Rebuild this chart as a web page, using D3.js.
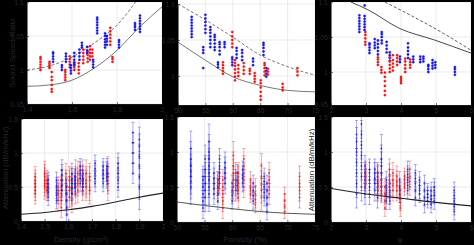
<!DOCTYPE html>
<html><head><meta charset="utf-8">
<script src="https://cdn.jsdelivr.net/npm/d3@7"></script>
<style>html,body{margin:0;padding:0;background:#000;}svg{display:block}</style>
</head><body>
<script>
// ---------- DATA ----------
// Top row: sound speed ratio columns [x, [values]]
const ssrDensityRed = [
 [1.46,[1.000,1.004,1.008,1.012,1.016,1.019]],
 [1.50,[1.003,1.006,1.009,1.012]],
 [1.51,[0.968,0.972,0.978,0.985,0.990,0.997]],
 [1.57,[0.985,0.989,0.993,0.997,1.000]],
 [1.59,[1.004,1.008,1.012,1.016,1.020]],
 [1.61,[1.000,1.004,1.008,1.010]],
 [1.63,[0.995,1.000,1.005,1.010]],
 [1.65,[1.010,1.015,1.020,1.025,1.030]],
 [1.67,[1.012,1.017,1.022,1.027]],
 [1.68,[1.015,1.020,1.025,1.030,1.035]],
 [1.69,[1.020,1.025,1.030]],
 [1.77,[1.037,1.042,1.047,1.052,1.057,1.062]],
 [1.78,[1.012,1.016,1.019]]
];
const ssrDensityBlue = [
 [1.516,[1.012,1.016,1.020,1.024,1.026]],
 [1.555,[1.000,1.004,1.007]],
 [1.573,[1.012,1.016,1.020,1.024]],
 [1.595,[0.995,0.999,1.003,1.007]],
 [1.61,[1.007,1.011,1.015,1.020,1.025]],
 [1.633,[1.015,1.020,1.025,1.030]],
 [1.644,[1.033,1.036,1.040]],
 [1.667,[1.025,1.029,1.034]],
 [1.694,[1.004,1.008,1.012,1.015]],
 [1.712,[1.054,1.058,1.062,1.066,1.070,1.074,1.077]],
 [1.747,[1.033,1.037,1.041,1.045,1.050,1.054]],
 [1.755,[1.037,1.042,1.046,1.050]],
 [1.809,[1.033,1.037,1.041,1.044]],
 [1.88,[1.059,1.063,1.066,1.069]],
 [1.902,[1.056,1.060,1.064,1.068,1.072,1.076,1.080]]
];
const ssrPorosityBlue = [
 [52.5,[1.054,1.058,1.062,1.066,1.070,1.074,1.078,1.082]],
 [54.6,[1.011,1.032,1.036,1.040]],
 [55.0,[1.060,1.065,1.070,1.075,1.080,1.085]],
 [55.9,[1.040,1.045,1.050,1.055,1.060,1.064,1.068]],
 [56.7,[1.036,1.040,1.045,1.050,1.054,1.057]],
 [57.3,[1.012,1.016,1.019]],
 [57.6,[1.030,1.035,1.040,1.044,1.047]],
 [58.5,[1.040,1.044,1.047]],
 [59.9,[1.015,1.019,1.023,1.026]],
 [60.7,[1.025,1.030,1.035,1.039]],
 [61.7,[1.022,1.027,1.032,1.036]],
 [63.7,[1.015,1.020,1.024]],
 [65.6,[1.029,1.034,1.039,1.043,1.046]],
 [66.1,[0.999,1.003,1.007,1.011]]
];
const ssrPorosityRed = [
 [58.2,[1.003,1.007,1.011,1.015,1.019]],
 [59.9,[1.040,1.045,1.050,1.055,1.061]],
 [60.4,[0.994,0.999,1.004,1.009,1.014,1.018,1.022]],
 [61.0,[1.000,1.005,1.010,1.015]],
 [62.0,[1.003,1.008,1.013,1.018]],
 [63.1,[1.003,1.007,1.010]],
 [64.0,[0.992,0.996,1.000,1.004]],
 [65.1,[0.967,0.972,0.978,0.984,0.990,0.994]],
 [65.8,[1.001,1.006,1.011,1.015,1.018]],
 [66.4,[1.002,1.006,1.010]],
 [69.1,[0.980,0.984,0.989]],
 [71.8,[1.001,1.006,1.011]]
];
const ssrPhiBlue = [
 [2.81,[1.057,1.061,1.065,1.069,1.073,1.077,1.081]],
 [2.96,[1.060,1.064,1.068,1.072,1.076,1.080,1.095]],
 [3.10,[1.027,1.031,1.035,1.039,1.041]],
 [3.25,[1.034,1.038,1.042,1.047]],
 [3.34,[1.025,1.030,1.035,1.040,1.045]],
 [3.45,[1.041,1.045,1.050,1.054,1.057]],
 [3.59,[1.028,1.033,1.038,1.043]],
 [3.68,[1.016,1.020,1.024,1.028]],
 [3.97,[1.014,1.018,1.022]],
 [4.20,[1.020,1.025,1.030,1.035,1.041]],
 [4.35,[1.014,1.018,1.022]],
 [4.55,[1.014,1.018,1.022]],
 [4.64,[1.015,1.019,1.022]],
 [4.78,[1.000,1.004,1.008,1.010]],
 [4.90,[1.005,1.009,1.013,1.017]],
 [4.98,[1.006,1.010,1.014]],
 [5.54,[0.996,1.000,1.004,1.007]]
];
const ssrPhiRed = [
 [2.98,[1.039,1.043,1.048,1.053,1.057]],
 [3.34,[1.010,1.014,1.018,1.021]],
 [3.44,[0.999,1.003,1.007]],
 [3.54,[0.967,0.973,0.980,0.987,0.993,0.999]],
 [3.68,[1.000,1.005,1.010,1.015,1.021]],
 [3.77,[1.002,1.007,1.012,1.017,1.024]],
 [3.89,[1.010,1.015,1.020,1.024]],
 [4.00,[0.984,0.987,0.990,0.993]],
 [4.12,[1.000,1.005,1.010,1.015,1.019]],
 [4.26,[1.006,1.010,1.014,1.018]]
];
// Bottom row: attenuation columns [x, [values], error half-length]
const attDensityRed = [
 [1.46,[0.40,0.45,0.50,0.55,0.60,0.65],0.15],
 [1.50,[0.50,0.55,0.60,0.65,0.70],0.18],
 [1.51,[0.45,0.50,0.55,0.60],0.15],
 [1.557,[0.30,0.40,0.45,0.50],0.15],
 [1.57,[0.20,0.30,0.40,0.50,0.60],0.15],
 [1.59,[0.30,0.40,0.50,0.55,0.60,0.70],0.15],
 [1.605,[0.35,0.45,0.50,0.60,0.65],0.15],
 [1.615,[0.30,0.40,0.50,0.60],0.18],
 [1.63,[0.40,0.50,0.55,0.65,0.75],0.15],
 [1.64,[0.45,0.55,0.60,0.70],0.18],
 [1.66,[0.45,0.55,0.60,0.65,0.75],0.15],
 [1.675,[0.50,0.55,0.60,0.70],0.20],
 [1.69,[0.45,0.50,0.60,0.65],0.20],
 [1.767,[0.45,0.55,0.65,0.70,0.80],0.15]
];
const attDensityBlue = [
 [1.515,[0.35,0.42,0.50,0.55,0.60],0.12],
 [1.55,[0.30,0.38,0.45,0.52,0.60],0.12],
 [1.573,[0.45,0.52,0.60,0.68,0.75],0.15],
 [1.593,[0.10,0.20,0.30,0.40,0.50],0.12],
 [1.615,[0.40,0.48,0.55,0.62,0.70],0.15],
 [1.628,[0.50,0.55,0.60,0.65],0.12],
 [1.65,[0.55,0.62,0.70,0.75,0.80],0.12],
 [1.662,[0.50,0.55,0.62,0.70],0.12],
 [1.713,[0.55,0.62,0.70,0.77,0.85],0.12],
 [1.747,[0.55,0.62,0.70,0.75,0.80],0.12],
 [1.763,[0.60,0.65,0.70,0.75,0.80],0.12],
 [1.81,[0.50,0.60,0.70,0.78,0.85],0.15],
 [1.873,[0.70,0.85,1.00,1.15,1.30],0.15],
 [1.90,[0.35,0.50,0.65,0.80,0.95,1.10,1.20],0.18]
];
const attPorosityBlue = [
 [52.5,[0.50,0.58,0.65,0.72,0.80,0.90,1.05],0.25],
 [54.7,[0.20,0.30,0.40,0.50,0.60,0.65],0.15],
 [55.1,[0.35,0.45,0.55,0.65,0.75,0.90],0.20],
 [55.8,[0.40,0.50,0.60,0.70,0.80,0.90,1.00,1.15],0.25],
 [56.7,[0.40,0.48,0.55,0.62,0.70],0.15],
 [57.4,[0.30,0.40,0.50,0.60],0.12],
 [57.7,[0.55,0.62,0.70,0.80,0.90],0.15],
 [58.7,[0.55,0.62,0.70,0.78,0.85],0.15],
 [60.0,[0.30,0.38,0.45,0.55],0.12],
 [60.9,[0.45,0.52,0.60,0.70],0.12],
 [61.9,[0.55,0.62,0.68,0.75],0.12],
 [63.8,[0.30,0.38,0.45,0.55],0.12],
 [65.8,[0.35,0.42,0.50,0.58,0.65],0.12],
 [66.3,[0.15,0.25,0.35,0.45,0.55],0.12]
];
const attPorosityRed = [
 [57.4,[0.45,0.50,0.55,0.60],0.12],
 [58.3,[0.20,0.30,0.40,0.50,0.60],0.15],
 [60.2,[0.50,0.60,0.70,0.80,0.95],0.20],
 [60.6,[0.45,0.52,0.60,0.70],0.15],
 [61.1,[0.35,0.45,0.55,0.65,0.70],0.15],
 [62.1,[0.50,0.60,0.70,0.80,0.90],0.15],
 [63.3,[0.40,0.45,0.50,0.60],0.12],
 [64.2,[0.25,0.32,0.40,0.50],0.12],
 [65.3,[0.35,0.45,0.55,0.65,0.80],0.18],
 [66.7,[0.40,0.50,0.60,0.70],0.15],
 [69.5,[0.15,0.22,0.30,0.40],0.10],
 [72.2,[0.35,0.45,0.55,0.65],0.15]
];
const attPhiBlue = [
 [2.73,[0.40,0.55,0.70,0.85,1.00,1.15,1.25],0.20],
 [2.87,[0.50,0.65,0.80,0.95,1.10,1.25,1.40],0.20],
 [2.97,[0.40,0.50,0.60,0.70,0.80],0.15],
 [3.10,[0.40,0.50,0.60,0.70,0.75],0.15],
 [3.25,[0.45,0.55,0.62,0.70,0.75],0.15],
 [3.33,[0.35,0.45,0.55,0.65,0.70],0.15],
 [3.44,[0.50,0.60,0.70,0.80,0.90,1.05],0.20],
 [3.58,[0.30,0.38,0.45,0.52,0.60],0.12],
 [3.68,[0.30,0.38,0.45,0.55],0.12],
 [3.96,[0.40,0.45,0.50,0.60],0.12],
 [4.19,[0.45,0.52,0.60,0.68,0.75],0.12],
 [4.41,[0.35,0.45,0.55,0.62,0.70],0.12],
 [4.53,[0.40,0.45,0.52,0.60],0.12],
 [4.67,[0.25,0.35,0.45,0.55],0.12],
 [4.76,[0.30,0.35,0.40,0.45],0.10],
 [4.86,[0.25,0.32,0.38,0.45],0.12],
 [4.95,[0.30,0.38,0.45,0.50],0.12],
 [5.52,[0.15,0.22,0.30,0.38,0.45],0.12]
];
const attPhiRed = [
 [2.99,[0.55,0.60,0.65,0.70,0.75],0.12],
 [3.34,[0.45,0.52,0.60,0.70],0.12],
 [3.44,[0.40,0.45,0.50,0.55],0.12],
 [3.54,[0.20,0.30,0.40,0.50],0.12],
 [3.67,[0.40,0.50,0.60,0.68,0.75],0.15],
 [3.77,[0.45,0.52,0.60,0.70],0.15],
 [3.88,[0.45,0.52,0.58,0.65],0.15],
 [3.98,[0.20,0.28,0.35,0.45],0.12],
 [4.10,[0.50,0.55,0.60,0.65],0.12],
 [4.25,[0.50,0.58,0.65,0.75],0.12]
];
// Model curves [x, y]
const ssrDensitySolid = [[1.4,0.976],[1.5,0.978],[1.6,0.985],[1.7,1.003],[1.8,1.029],[1.9,1.063],[2.0,1.093]];
const ssrDensityDashed = [[1.4,1.0],[1.5,1.006],[1.6,1.019],[1.7,1.04],[1.8,1.066],[1.9,1.108]];
const ssrPorositySolid = [[50,1.047],[55,1.022],[60,0.999],[65,0.987],[70,0.98],[75,0.978]];
const ssrPorosityDashed = [[50,1.1],[55,1.078],[60,1.054],[65,1.029],[70,1.013],[75,1.001]];
const ssrPhiSolid = [[2.57,1.1],[3.05,1.089],[3.97,1.062],[4.94,1.046],[6.0,1.027]];
const ssrPhiDashed = [[3.54,1.1],[4.35,1.079],[5.22,1.055],[6.0,1.031]];
const attDensityCurve = [[1.4,0.1],[1.5,0.125],[1.6,0.165],[1.7,0.215],[1.8,0.28],[1.9,0.35],[2.0,0.41]];
const attPorosityCurve = [[50,0.286],[55,0.235],[60,0.19],[65,0.15],[70,0.125],[75,0.11]];
const attPhiCurve = [[2,0.48],[3,0.4],[4,0.34],[5,0.28],[6,0.23]];
// Tick values
const densityTicksTop = [1.4,1.6,1.8,2];
const densityTicksBottom = [1.4,1.5,1.6,1.7,1.8,1.9,2];
const porosityTicks = [50,55,60,65,70,75];
const phiTicks = [2,3,4,5,6];
const ssrTicks = [0.95,1,1.05,1.1];
const attTicks = [0,0.5,1,1.5];

// ---------- DRAWING ----------
const W=474,H=245;
const RED="#f01414", BLUE="#1414ee", TXT="#262626", FONT="'Liberation Sans', Arial, sans-serif";
const svg=d3.select("body").append("svg").attr("width",W).attr("height",H);
svg.append("rect").attr("width",W).attr("height",H).attr("fill","#000");
const fmt=d3.format("~g");

function panel(c){
  const x=d3.scaleLinear().domain(c.xd).range([c.x0,c.x1]);
  const y=d3.scaleLinear().domain(c.yd).range(c.yr);
  const g=svg.append("g");
  g.append("rect").attr("x",c.x0).attr("y",c.y0).attr("width",c.x1-c.x0).attr("height",c.y1-c.y0).attr("fill","#fff");
  svg.append("clipPath").attr("id","clip"+c.id).append("rect")
    .attr("x",c.x0).attr("y",c.y0).attr("width",c.x1-c.x0).attr("height",c.y1-c.y0);
  const inner=g.append("g").attr("clip-path",`url(#clip${c.id})`);
  inner.selectAll(null).data(c.xt).join("line")
    .attr("x1",d=>x(d)).attr("x2",d=>x(d)).attr("y1",c.y0).attr("y2",c.y1)
    .attr("stroke","#dedede").attr("stroke-width",0.6);
  inner.selectAll(null).data(c.yt).join("line")
    .attr("y1",d=>y(d)).attr("y2",d=>y(d)).attr("x1",c.x0).attr("x2",c.x1)
    .attr("stroke","#dedede").attr("stroke-width",0.6);
  const line=d3.line().x(d=>x(d[0])).y(d=>y(d[1])).curve(d3.curveMonotoneX);
  (c.curves||[]).forEach(cv=>{
    inner.append("path").datum(cv.data).attr("d",line).attr("fill","none")
      .attr("stroke",cv.color).attr("stroke-width",cv.w).attr("stroke-dasharray",cv.dash||null);
  });
  (c.scatter||[]).forEach(s=>{
    const pts=s.data.flatMap(([xv,vals])=>vals.map(v=>[xv,v]));
    inner.append("g").selectAll("circle").data(pts).join("circle")
      .attr("cx",d=>x(d[0])).attr("cy",d=>y(d[1])).attr("r",1.15)
      .attr("fill",s.color).attr("stroke",s.color).attr("stroke-width",0.4);
  });
  (c.errs||[]).forEach(s=>{
    const pts=s.data.flatMap(([xv,vals,e])=>vals.map(v=>[xv,v,e]));
    const eg=inner.append("g").attr("stroke",s.color).attr("stroke-opacity",0.5).attr("stroke-width",0.7);
    eg.selectAll(null).data(pts).join("line")
      .attr("x1",d=>x(d[0])).attr("x2",d=>x(d[0])).attr("y1",d=>y(d[1]-d[2])).attr("y2",d=>y(d[1]+d[2]));
    eg.selectAll(null).data(pts).join("line")
      .attr("x1",d=>x(d[0])-1.5).attr("x2",d=>x(d[0])+1.5).attr("y1",d=>y(d[1]-d[2])).attr("y2",d=>y(d[1]-d[2]));
    eg.selectAll(null).data(pts).join("line")
      .attr("x1",d=>x(d[0])-1.5).attr("x2",d=>x(d[0])+1.5).attr("y1",d=>y(d[1]+d[2])).attr("y2",d=>y(d[1]+d[2]));
    inner.append("g").selectAll("circle").data(pts).join("circle")
      .attr("cx",d=>x(d[0])).attr("cy",d=>y(d[1])).attr("r",1.0)
      .attr("fill",s.color).attr("fill-opacity",0.75);
  });
  (c.after||[]).forEach(cv=>{
    inner.append("path").datum(cv.data).attr("d",line).attr("fill","none")
      .attr("stroke",cv.color).attr("stroke-width",cv.w);
  });
  const ax=g.append("g").attr("transform",`translate(0,${c.y1})`)
    .call(d3.axisBottom(x).tickValues(c.xt).tickFormat(fmt).tickSize(-2).tickSizeOuter(0).tickPadding(3));
  const ay=g.append("g").attr("transform",`translate(${c.x0},0)`)
    .call(d3.axisLeft(y).tickValues(c.yt).tickFormat(fmt).tickSize(-2).tickSizeOuter(0).tickPadding(3));
  [ax,ay].forEach(a=>{
    a.select(".domain").attr("stroke",TXT).attr("stroke-width",0.6);
    a.selectAll(".tick line").attr("stroke",TXT).attr("stroke-width",0.6);
    a.selectAll("text").attr("fill",TXT).style("font-family",FONT).style("font-size","7px");
  });
  if(c.ytShift) ay.selectAll(".tick text").attr("dy",(d,i)=>d===c.yd[0]?"-0.1em":"0.32em");
  if(c.xlabel) g.append("text").attr("x",c.xlabel[1]).attr("y",c.xlabel[2]).attr("text-anchor","middle")
    .attr("fill",TXT).style("font-family",FONT).style("font-size","8px").text(c.xlabel[0]);
  if(c.ylabel) g.append("text").attr("transform",`translate(${c.ylabel[1]},${c.ylabel[2]}) rotate(-90)`)
    .attr("text-anchor","middle").attr("dominant-baseline","middle")
    .attr("fill",TXT).style("font-family",FONT).style("font-size","8px").text(c.ylabel[0]);
}

const GRAY="#555";
panel({id:1,x0:27,x1:162,y0:2,y1:104,xd:[1.4,2],yd:[0.95,1.1],yr:[104,2],xt:densityTicksTop,yt:ssrTicks,
  curves:[{data:ssrDensitySolid,color:GRAY,w:0.8},{data:ssrDensityDashed,color:GRAY,w:0.8,dash:"3,2"}],
  scatter:[{data:ssrDensityRed,color:RED},{data:ssrDensityBlue,color:BLUE}],
  ylabel:["Sound Speed Ratio",13,53]});
panel({id:2,x0:178,x1:315,y0:0,y1:105,xd:[50,75],yd:[0.95,1.1],yr:[112,4],xt:porosityTicks,yt:[1,1.05,1.1],
  curves:[{data:ssrPorositySolid,color:GRAY,w:0.8},{data:ssrPorosityDashed,color:GRAY,w:0.8,dash:"3,2"}],
  scatter:[{data:ssrPorosityBlue,color:BLUE},{data:ssrPorosityRed,color:RED}]});
panel({id:3,x0:331,x1:471,y0:2,y1:105,xd:[2,6],yd:[0.95,1.1],yr:[107,2],xt:phiTicks,yt:ssrTicks,ytShift:true,
  curves:[{data:ssrPhiSolid,color:"#333",w:0.9},{data:ssrPhiDashed,color:"#333",w:0.8,dash:"3,2"}],
  scatter:[{data:ssrPhiBlue,color:BLUE},{data:ssrPhiRed,color:RED}]});
panel({id:4,x0:21,x1:163,y0:119,y1:221,xd:[1.4,2],yd:[0,1.5],yr:[221,119],xt:densityTicksBottom,yt:attTicks,
  errs:[{data:attDensityRed,color:RED},{data:attDensityBlue,color:BLUE}],
  after:[{data:attDensityCurve,color:"#222",w:1.1}],
  xlabel:["Density (g/cm³)",81,242],ylabel:["Attenuation (dB/m/kHz)",6,168]});
panel({id:5,x0:177,x1:315,y0:117,y1:222,xd:[50,75],yd:[0,1.5],yr:[222,117],xt:porosityTicks,yt:attTicks,
  errs:[{data:attPorosityBlue,color:BLUE},{data:attPorosityRed,color:RED}],
  after:[{data:attPorosityCurve,color:"#444",w:0.9}],
  xlabel:["Porosity (%)",245,242]});
panel({id:6,x0:331,x1:471,y0:117,y1:222,xd:[2,6],yd:[0,1.5],yr:[222,117],xt:phiTicks,yt:attTicks,
  errs:[{data:attPhiBlue,color:BLUE},{data:attPhiRed,color:RED}],
  after:[{data:attPhiCurve,color:"#222",w:1.1}],
  xlabel:["φ",400,242],ylabel:["Attenuation (dB/m/kHz)",312,170]});
</script>
</body></html>
